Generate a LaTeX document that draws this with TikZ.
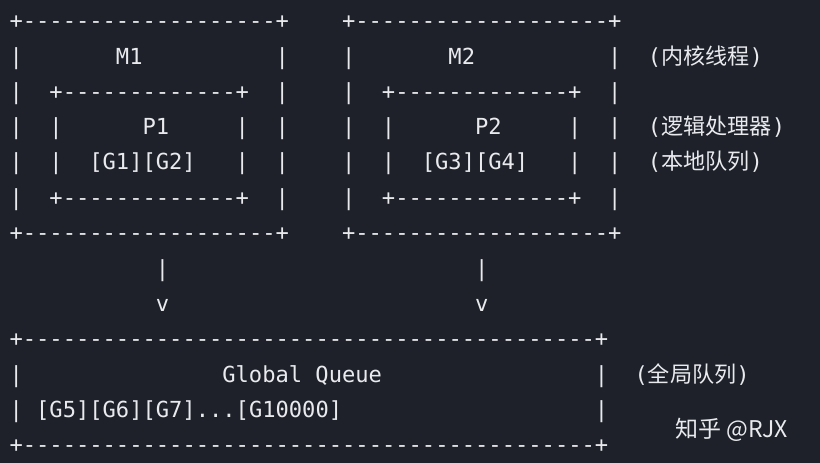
\documentclass[tikz,border=0pt]{standalone}
\usepackage{fontspec}
\setmonofont{DejaVu Sans Mono}
\newfontfamily\cjk{Noto Sans CJK SC}
\definecolor{bg}{HTML}{1E2129}
\definecolor{fg}{HTML}{E8EAEE}
\newcommand\asc[3]{\node[txt] at ({9.35+13.3*#1},{#2+8}) {#3};}
\begin{document}
\begin{tikzpicture}[x=1pt,y=-1pt,txt/.style={anchor=base west,inner sep=0pt,text=fg,font=\ttfamily\fontsize{22.1}{26}\selectfont}]
\fill[bg] (0,0) rectangle (820,463);
\useasboundingbox (0,0) rectangle (820,463);
\foreach \y in {20,232}{
 \asc{0}{\y}{+-------------------+}
 \asc{25}{\y}{+-------------------+}}
\foreach \y in {56,91,126,161,197}{
 \asc{0}{\y}{|}\asc{20}{\y}{|}\asc{25}{\y}{|}\asc{45}{\y}{|}}
\asc{8}{56}{M1}\asc{33}{56}{M2}
\foreach \y in {91,197}{\asc{3}{\y}{+-------------+}\asc{28}{\y}{+-------------+}}
\foreach \y in {126,161}{\asc{3}{\y}{|}\asc{17}{\y}{|}\asc{28}{\y}{|}\asc{42}{\y}{|}}
\asc{10}{126}{P1}\asc{35}{126}{P2}
\asc{6}{161}{[G1][G2]}\asc{31}{161}{[G3][G4]}
\asc{11}{268}{|}\asc{35}{268}{|}
\asc{11}{303}{v}\asc{35}{303}{v}
\foreach \y in {338,444}{\asc{0}{\y}{+-------------------------------------------+}}
\foreach \y in {374,409}{\asc{0}{\y}{|}\asc{44}{\y}{|}}
\asc{16}{374}{Global Queue}
\asc{2}{409}{[G5][G6][G7]...[G10000]}
\asc{48}{56}{({\cjk 内核线程})}
\asc{48}{126}{({\cjk 逻辑处理器})}
\asc{48}{161}{({\cjk 本地队列})}
\asc{47}{374}{({\cjk 全局队列})}
\node[anchor=base west,inner sep=0pt,text=fg,font=\cjk\fontsize{23}{26}\selectfont] (wm) at (675,437) {知乎 @RJX};
\end{tikzpicture}
\end{document}
